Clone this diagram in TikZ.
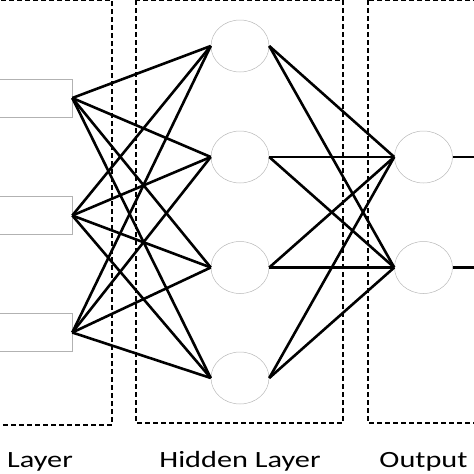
\documentclass[tikz,border=0pt]{standalone}
\usepackage{fontspec}
\setmainfont{Carlito}
\usetikzlibrary{shapes.geometric}

\begin{document}
\begin{tikzpicture}[x=1pt, y=-1pt]
  \useasboundingbox (0, 0) rectangle (474, 474);  % Bildausschnitt.
  \tikzstyle{input}=[rectangle, draw=gray!60, line width=0.6pt, minimum width=92pt, minimum height=38pt, inner sep=0pt]
  \tikzstyle{neuron}=[ellipse, draw=gray!55, line width=0.5pt, minimum width=58pt, minimum height=52pt, inner sep=0pt]
  \tikzstyle{layer}=[draw=black, line width=1.5pt, dash pattern=on 5pt off 3pt]
  \tikzstyle{link}=[draw=black, line width=2.6pt]
  \tikzstyle{caption}=[font=\fontsize{23.3}{28}\selectfont, anchor=base, inner sep=0pt, xscale=1.3]

  \draw[layer] (-20, 0) rectangle (112, 425);
  \draw[layer] (136, 0) rectangle (343, 423);
  \draw[layer] (368, 0) rectangle (500, 423);

  \node[input]  (i1) at (26,    98)    {};
  \node[input]  (i2) at (26,    215.5) {};
  \node[input]  (i3) at (26,    332.5) {};
  \node[neuron] (h1) at (240,   46)    {};
  \node[neuron] (h2) at (240,   157)   {};
  \node[neuron] (h3) at (240,   267.5) {};
  \node[neuron] (h4) at (240,   378)   {};
  \node[neuron] (o1) at (423.5, 157)   {};
  \node[neuron] (o2) at (423.5, 267.5) {};
  \coordinate   (y1) at (480,   157);
  \coordinate   (y2) at (480,   267.5);

  \node[caption] (l1) at (40,    467) {Layer};
  \node[caption] (l2) at (240,   467) {Hidden Layer};
  \node[caption] (l3) at (423.5, 467) {Output};

  \path (i1.east) edge[link] (h1.west);
  \path (i1.east) edge[link] (h2.west);
  \path (i1.east) edge[link] (h3.west);
  \path (i1.east) edge[link] (h4.west);
  \path (i2.east) edge[link] (h1.west);
  \path (i2.east) edge[link] (h2.west);
  \path (i2.east) edge[link] (h3.west);
  \path (i2.east) edge[link] (h4.west);
  \path (i3.east) edge[link] (h1.west);
  \path (i3.east) edge[link] (h2.west);
  \path (i3.east) edge[link] (h3.west);
  \path (i3.east) edge[link] (h4.west);
  \path (h1.east) edge[link] (o1.west);
  \path (h1.east) edge[link] (o2.west);
  \path (h2.east) edge[link] (o1.west);
  \path (h2.east) edge[link] (o2.west);
  \path (h3.east) edge[link] (o1.west);
  \path (h3.east) edge[link] (o2.west);
  \path (h4.east) edge[link] (o1.west);
  \path (h4.east) edge[link] (o2.west);
  \path (o1.east) edge[link] (y1);
  \path (o2.east) edge[link] (y2);
\end{tikzpicture}
\end{document}
